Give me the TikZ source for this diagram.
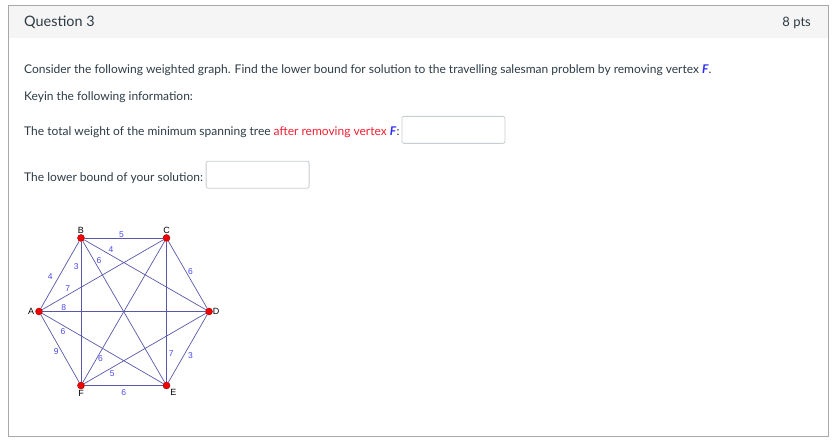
\documentclass[tikz,border=0pt]{standalone}
\usepackage{fontspec}
\setmainfont{Lato}
\newfontfamily\graphfont{Liberation Sans}
\usepackage{tikz}
\usetikzlibrary{positioning, backgrounds}
\definecolor{textcolor}{HTML}{2D3B45}
\definecolor{cardline}{HTML}{A8A8A8}
\definecolor{headfill}{HTML}{F5F5F5}
\definecolor{boxline}{HTML}{C7CDD1}
\definecolor{edgecolor}{RGB}{88, 88, 168}
\definecolor{weightcolor}{RGB}{72, 72, 235}
\definecolor{vertexred}{RGB}{240, 0, 0}
\definecolor{keyred}{RGB}{245, 30, 50}
\definecolor{keyblue}{RGB}{45, 45, 250}

\begin{document}
\begin{tikzpicture}[
    x=1pt, y=-1pt,
    txt/.style={anchor=base west, inner sep=0pt, font=\fontsize{12}{14}\selectfont, text=textcolor},
    answer/.style={draw=boxline, rounded corners=2pt, line width=0.8pt, inner sep=0pt, minimum width=103pt, minimum height=27pt, anchor=north west},
    vertex/.style={circle, fill=vertexred, draw=vertexred!65!black, line width=0.4pt, minimum size=7pt, inner sep=0pt},
    vlab/.style={font=\graphfont\fontsize{9}{10}\selectfont, inner sep=1pt},
    link/.style={draw=edgecolor, line width=0.7pt},
    wt/.style={font=\graphfont\fontsize{8.5}{10}\selectfont, text=weightcolor, inner sep=0pt}
]
    \useasboundingbox (0,0) rectangle (835,443);

    % Card
    \fill[headfill] (8,5) rectangle (828,38);
    \draw[cardline, line width=0.9pt] (8,5) rectangle (828,436);
    \node[txt, font=\fontsize{14.4}{17}\selectfont] (title) at (24,26.7) {Question 3};
    \node[txt, anchor=base east, font=\fontsize{13}{15}\selectfont] (points) at (811,26.7) {8 pts};

    % Question text
    \node[txt] (intro) at (24,74) {Consider the following weighted graph. Find the lower bound for solution to the travelling salesman problem by removing vertex \textcolor{keyblue}{\textbf{\textit{F}}}.};
    \node[txt] (keyin) at (24,101) {Keyin the following information:};
    \node[txt] (total) at (24,136) {The total weight of the minimum spanning tree \textcolor{keyred}{after removing vertex }\textcolor{keyblue}{\textbf{\textit{F}}}:};
    \node[answer] (totalbox) at (401.5,116) {};
    \node[txt] (lower) at (24,181.3) {The lower bound of your solution:};
    \node[answer] (lowerbox) at (205.7,160.8) {};

    % Vertices
    \node[vertex, label={[vlab]left:A}] (A) at (39,311.5) {};
    \node[vertex, label={[vlab]above:B}] (B) at (81,238) {};
    \node[vertex, label={[vlab]above:C}] (C) at (166.5,238) {};
    \node[vertex, label={[vlab, inner sep=0pt]right:D}] (D) at (209,311.5) {};
    \node[vertex, label={[vlab]below right:E}] (E) at (166.5,385.5) {};
    \node[vertex, label={[vlab]below:F}] (F) at (81,385.5) {};

    % Weighted edges
    \begin{scope}[on background layer]
        \draw[link] (A) -- node[wt, pos=.47, left=6pt] {4} (B);
        \draw[link] (A) -- node[wt, pos=.24, above left=1pt] {7} (C);
        \draw[link] (A) -- node[wt, pos=.13, above=0.5pt] {8} (D);
        \draw[link] (A) -- node[wt, pos=.2, below left=1pt] {6} (E);
        \draw[link] (A) -- node[wt, pos=.55, left=3pt] {9} (F);
        \draw[link] (B) -- node[wt, pos=.47, above=0.5pt] {5} (C);
        \draw[link] (B) -- node[wt, pos=.22, above=2.5pt] {4} (D);
        \draw[link] (B) -- node[wt, pos=.14, right=2pt] {6} (E);
        \draw[link] (B) -- node[wt, pos=.18, left=2pt] {3} (F);
        \draw[link] (C) -- node[wt, pos=.45, right=2pt] {6} (D);
        \draw[link] (C) -- node[wt, pos=.8, right=2pt] {7} (E);
        \draw[link] (C) -- node[wt, pos=.83, right=1pt] {6} (F);
        \draw[link] (D) -- node[wt, pos=.6, right=4pt] {3} (E);
        \draw[link] (D) -- node[wt, pos=.77, below=2.5pt] {5} (F);
        \draw[link] (F) -- node[wt, pos=.5, below=4pt] {6} (E);
    \end{scope}
\end{tikzpicture}
\end{document}
